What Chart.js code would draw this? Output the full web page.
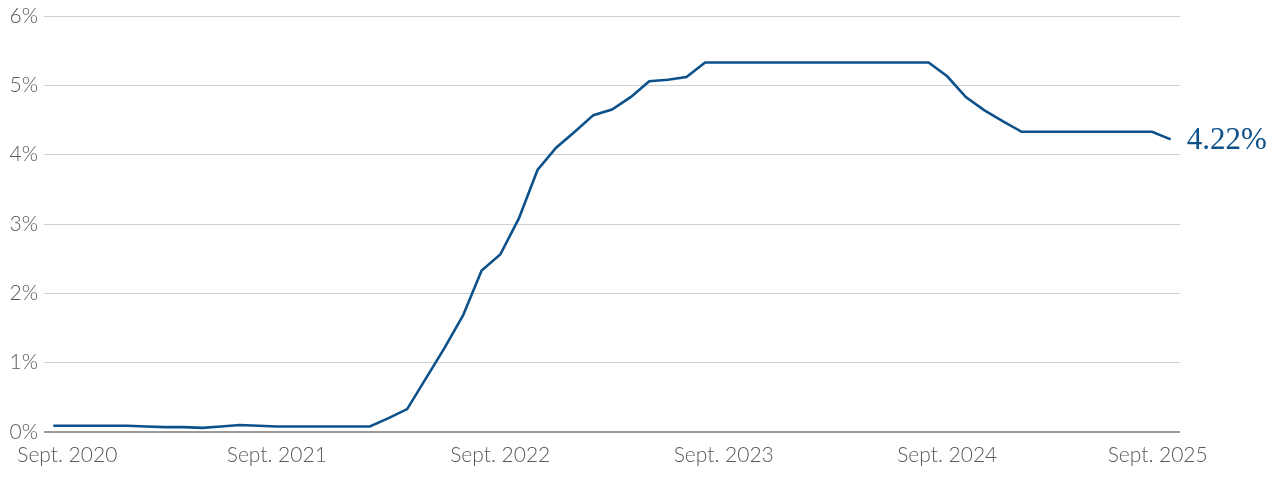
<!DOCTYPE html>
<html>
<head>
<meta charset="utf-8">
<script src="https://cdn.jsdelivr.net/npm/chart.js@4"></script>
<style>
  html, body { margin: 0; padding: 0; background: #fff; }
  #wrap { width: 1280px; height: 477px; }
</style>
</head>
<body>
<div id="wrap"><canvas id="myChart"></canvas></div>
<script>
// Months, Sept. 2020 .. Sept. 2025
const months = [
  'Sep 2020','Oct 2020','Nov 2020','Dec 2020',
  'Jan 2021','Feb 2021','Mar 2021','Apr 2021','May 2021','Jun 2021','Jul 2021','Aug 2021','Sep 2021','Oct 2021','Nov 2021','Dec 2021',
  'Jan 2022','Feb 2022','Mar 2022','Apr 2022','May 2022','Jun 2022','Jul 2022','Aug 2022','Sep 2022','Oct 2022','Nov 2022','Dec 2022',
  'Jan 2023','Feb 2023','Mar 2023','Apr 2023','May 2023','Jun 2023','Jul 2023','Aug 2023','Sep 2023','Oct 2023','Nov 2023','Dec 2023',
  'Jan 2024','Feb 2024','Mar 2024','Apr 2024','May 2024','Jun 2024','Jul 2024','Aug 2024','Sep 2024','Oct 2024','Nov 2024','Dec 2024',
  'Jan 2025','Feb 2025','Mar 2025','Apr 2025','May 2025','Jun 2025','Jul 2025','Aug 2025','Sep 2025'
]

// Rate, percent
const rates = [
  0.09, 0.09, 0.09, 0.09,
  0.09, 0.08, 0.07, 0.07, 0.06, 0.08, 0.10, 0.09, 0.08, 0.08, 0.08, 0.08,
  0.08, 0.08, 0.20, 0.33, 0.77, 1.21, 1.68, 2.33, 2.56, 3.08, 3.78, 4.10,
  4.33, 4.57, 4.65, 4.83, 5.06, 5.08, 5.12, 5.33, 5.33, 5.33, 5.33, 5.33,
  5.33, 5.33, 5.33, 5.33, 5.33, 5.33, 5.33, 5.33, 5.13, 4.83, 4.64, 4.48,
  4.33, 4.33, 4.33, 4.33, 4.33, 4.33, 4.33, 4.33, 4.22
]

// Axis labels
const xTickMonths = ['Sep 2020','Sep 2021','Sep 2022','Sep 2023','Sep 2024','Sep 2025']
const xTickLabels = ['Sept. 2020','Sept. 2021','Sept. 2022','Sept. 2023','Sept. 2024','Sept. 2025']
const yTicks = [0, 1, 2, 3, 4, 5, 6]
const endLabel = '4.22%'

const lineColor = '#0c518a'
const tickColor = '#5a5a5a'

// draws the x labels (ends pulled inward) and the end value
const labelsPlugin = {
    id: 'labels',
    afterDraw(chart) {
        const ctx = chart.ctx
        const x = chart.scales.x
        const y = chart.scales.y
        ctx.save()
        ctx.font = '300 21px Lato'
        ctx.fillStyle = tickColor
        ctx.textAlign = 'center'
        ctx.textBaseline = 'middle'
        xTickMonths.forEach((m, i) => {
            let px = x.getPixelForValue(months.indexOf(m))
            if (i === 0) px += 14
            if (i === xTickMonths.length - 1) px -= 13
            ctx.fillText(xTickLabels[i], px, chart.chartArea.bottom + 23)
        })
        const last = rates.length - 1
        ctx.font = '31px "Liberation Serif"'
        ctx.fillStyle = lineColor
        ctx.textAlign = 'left'
        ctx.fillText(endLabel, x.getPixelForValue(last) + 16, y.getPixelForValue(rates[last]) + 1)
        ctx.restore()
    }
}

const ctx = document.getElementById('myChart').getContext('2d')
const myChart = new Chart(ctx, {
    type: 'line',
    data: {
        labels: months,
        datasets: [{
            data: rates,
            borderColor: lineColor,
            borderWidth: 2.6,
            pointRadius: 0,
            tension: 0,
            fill: false
        }]
    },
    options: {
        responsive: true,
        maintainAspectRatio: false,
        animation: false,
        layout: { padding: { top: 16, right: 100, bottom: 37, left: 0 } },
        plugins: {
            legend: { display: false },
            tooltip: { enabled: false }
        },
        scales: {
            x: {
                type: 'category',
                offset: true,
                grid: { display: false },
                border: { display: false },
                ticks: { display: false }
            },
            y: {
                min: 0,
                max: 6,
                afterFit(scale) { scale.width = 44; scale.paddingTop = 0 },
                afterBuildTicks(scale) { scale.ticks = yTicks.map(v => ({ value: v })) },
                border: { display: false },
                grid: {
                    drawTicks: false,
                    color: c => c.tick.value === 0 ? '#9a9a9a' : '#cfcfcf',
                    lineWidth: c => c.tick.value === 0 ? 2 : 1
                },
                ticks: {
                    padding: 6,
                    color: tickColor,
                    font: { family: 'Lato', size: 21, weight: '300', lineHeight: 1 },
                    callback: v => v + '%'
                }
            }
        }
    },
    plugins: [labelsPlugin]
})
</script>
</body>
</html>
